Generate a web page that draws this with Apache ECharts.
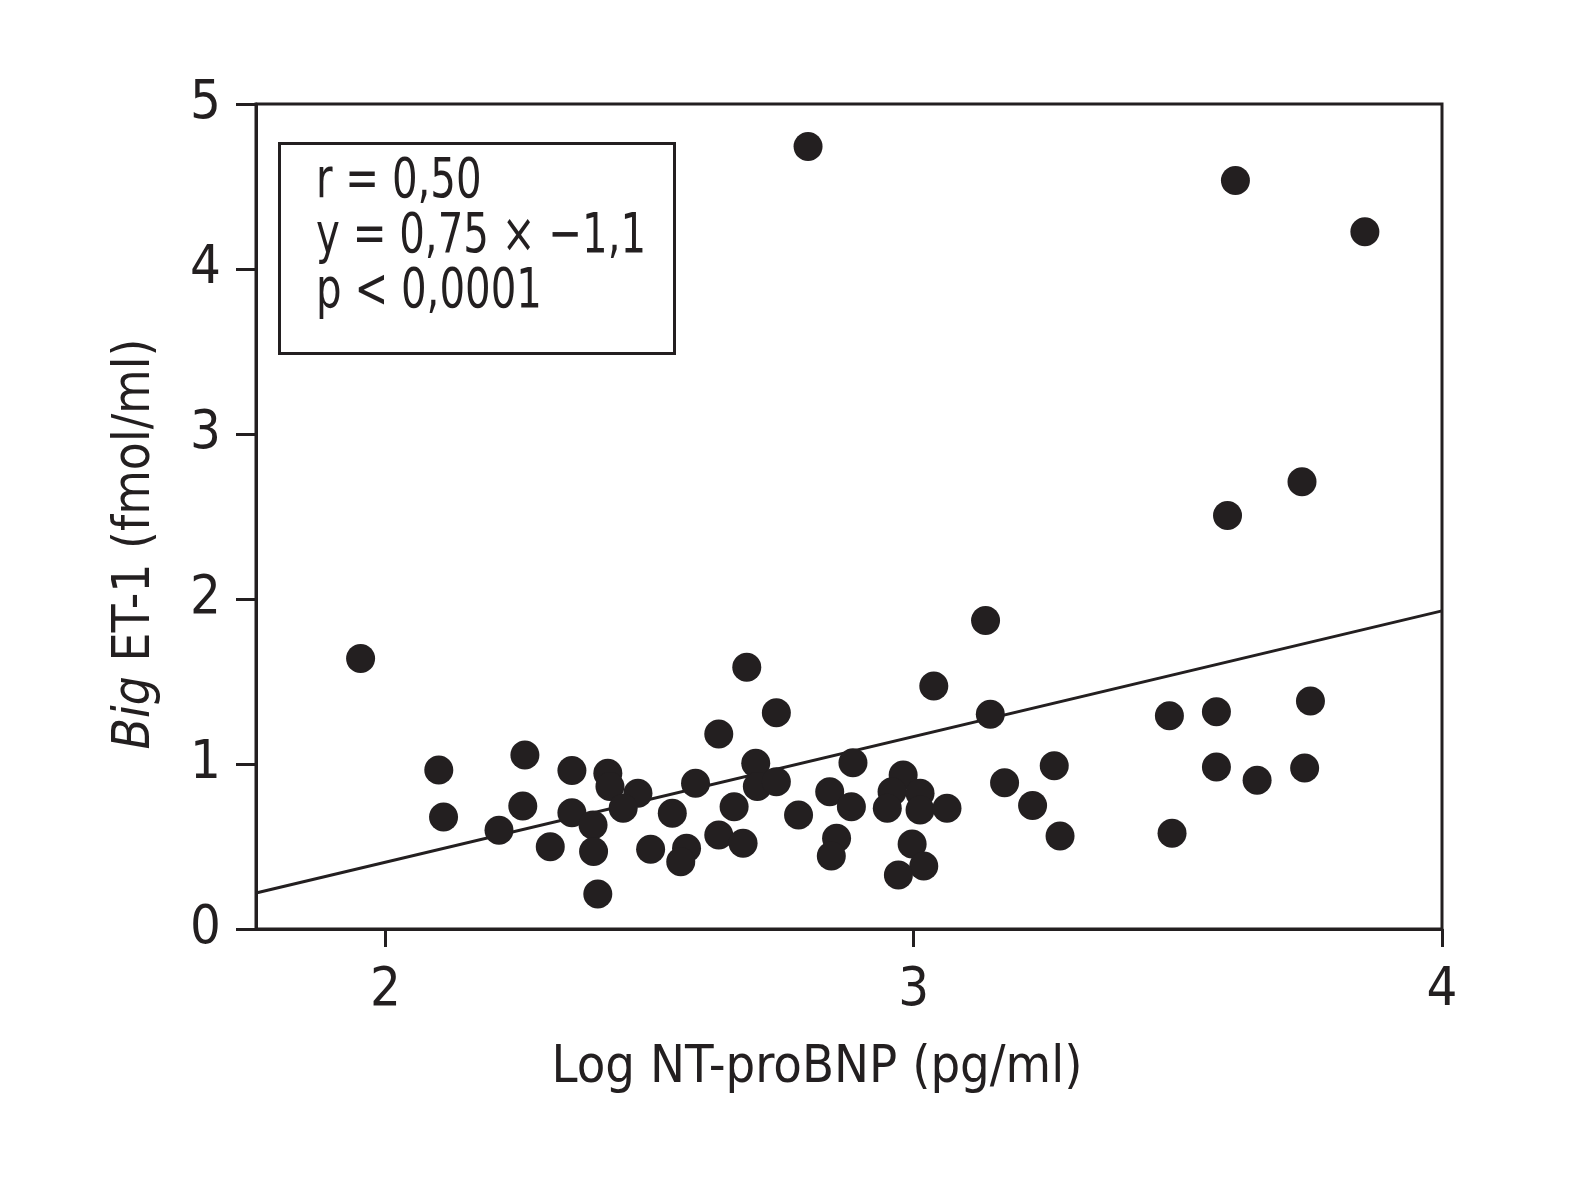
<!DOCTYPE html>
<html>
<head>
<meta charset="utf-8">
<script src="https://cdn.jsdelivr.net/npm/echarts@6/dist/echarts.min.js"></script>
<style>
  html, body { margin: 0; padding: 0; background: #fff; }
  #main { width: 1575px; height: 1179px; }
</style>
</head>
<body>
<div id="main"></div>
<script>
// Log NT-proBNP (x) and Big ET-1 (y) per patient
const logNtProBnp = [
  1.953, 2.101, 2.110, 2.264, 2.260, 2.215, 2.353, 2.353, 2.312, 2.421,
  2.425, 2.393, 2.394, 2.402, 2.478, 2.450, 2.543, 2.502, 2.587, 2.570,
  2.559, 3.136, 2.684, 3.038, 2.740, 2.631, 3.145, 2.701, 2.704, 2.740,
  2.885, 2.660, 2.631, 2.677, 2.782, 2.841, 2.882, 2.854, 2.844, 2.980,
  2.959, 3.012, 2.950, 3.012, 3.063, 2.997, 3.019, 2.971, 3.172, 3.266,
  3.225, 3.277, 3.735, 3.594, 3.484, 3.573, 3.751, 3.573, 3.650, 3.740,
  3.489, 2.800, 3.609, 3.854
];
const bigEt1 = [
  1.640, 0.964, 0.679, 1.055, 0.746, 0.598, 0.960, 0.705, 0.499, 0.944,
  0.863, 0.631, 0.469, 0.212, 0.823, 0.732, 0.702, 0.483, 0.883, 0.489,
  0.408, 1.870, 1.587, 1.473, 1.310, 1.182, 1.302, 1.005, 0.863, 0.893,
  1.008, 0.741, 0.570, 0.520, 0.691, 0.832, 0.741, 0.550, 0.443, 0.934,
  0.832, 0.823, 0.732, 0.721, 0.732, 0.515, 0.382, 0.327, 0.887, 0.990,
  0.748, 0.564, 2.710, 2.506, 1.293, 1.317, 1.382, 0.982, 0.902, 0.976,
  0.580, 4.743, 4.536, 4.226
];

// regression line end points
const fitX = [1.755, 4];
const fitY = [0.218, 1.928];

const xTicks = [2, 3, 4];
const statLines = ["r = 0,50", "y = 0,75 \u00d7 \u22121,1", "p < 0,0001"];

const ink = "#231f20";
const font = '"Liberation Sans Narrow", "DejaVu Sans Condensed", "Liberation Sans", sans-serif';

let chart = echarts.init(document.getElementById("main"));

let points = logNtProBnp.map((x, i) => [x, bigEt1[i]]);
let fit = fitX.map((x, i) => [x, fitY[i]]);

let option = {
  animation: false,
  backgroundColor: "#fff",
  grid: {
    left: 256,
    right: 133,
    top: 104,
    bottom: 250,
    show: true,
    borderColor: ink,
    borderWidth: 3,
  },
  xAxis: {
    type: "value",
    min: 1.755,
    max: 4,
    name: "Log NT-proBNP (pg/ml)",
    nameLocation: "middle",
    nameGap: 113,
    nameTextStyle: {
      color: ink,
      fontFamily: font,
      fontSize: 52,
      padding: [0, 64, 0, 0],
    },
    axisLine: { lineStyle: { color: ink, width: 3 } },
    axisTick: {
      customValues: xTicks,
      length: 18,
      lineStyle: { color: ink, width: 3 },
    },
    axisLabel: {
      customValues: xTicks,
      color: ink,
      fontFamily: font,
      fontSize: 54,
      margin: 35,
    },
    splitLine: { show: false },
  },
  yAxis: {
    type: "value",
    min: 0,
    max: 5,
    interval: 1,
    name: "{i|Big} ET-1 (fmol/ml)",
    nameLocation: "middle",
    nameGap: 95,
    nameTextStyle: {
      color: ink,
      fontFamily: font,
      fontSize: 51,
      padding: [0, 55, 0, 0],
      rich: {
        i: { fontStyle: "italic", fontFamily: font, fontSize: 51, color: ink },
      },
    },
    axisLine: { lineStyle: { color: ink, width: 3 } },
    axisTick: { length: 20, lineStyle: { color: ink, width: 3 } },
    axisLabel: {
      color: ink,
      fontFamily: font,
      fontSize: 54,
      margin: 35,
    },
    splitLine: { show: false },
  },
  graphic: [
    {
      type: "rect",
      left: 278,
      top: 142,
      shape: { width: 395, height: 210 },
      style: { fill: "#fff", stroke: ink, lineWidth: 3 },
      z: 10,
    },
    {
      type: "text",
      left: 316,
      top: 154,
      scaleX: 0.8,
      style: {
        text: statLines.join("\n"),
        font: "56px " + font,
        lineHeight: 55,
        fill: ink,
      },
      z: 11,
    },
  ],
  series: [
    {
      type: "line",
      data: fit,
      symbol: "none",
      lineStyle: { color: ink, width: 3 },
      z: 1,
    },
    {
      type: "scatter",
      data: points,
      symbol: "circle",
      symbolSize: 29,
      itemStyle: { color: ink, opacity: 1 },
      z: 2,
    },
  ],
};
chart.setOption(option);
</script>
</body>
</html>
